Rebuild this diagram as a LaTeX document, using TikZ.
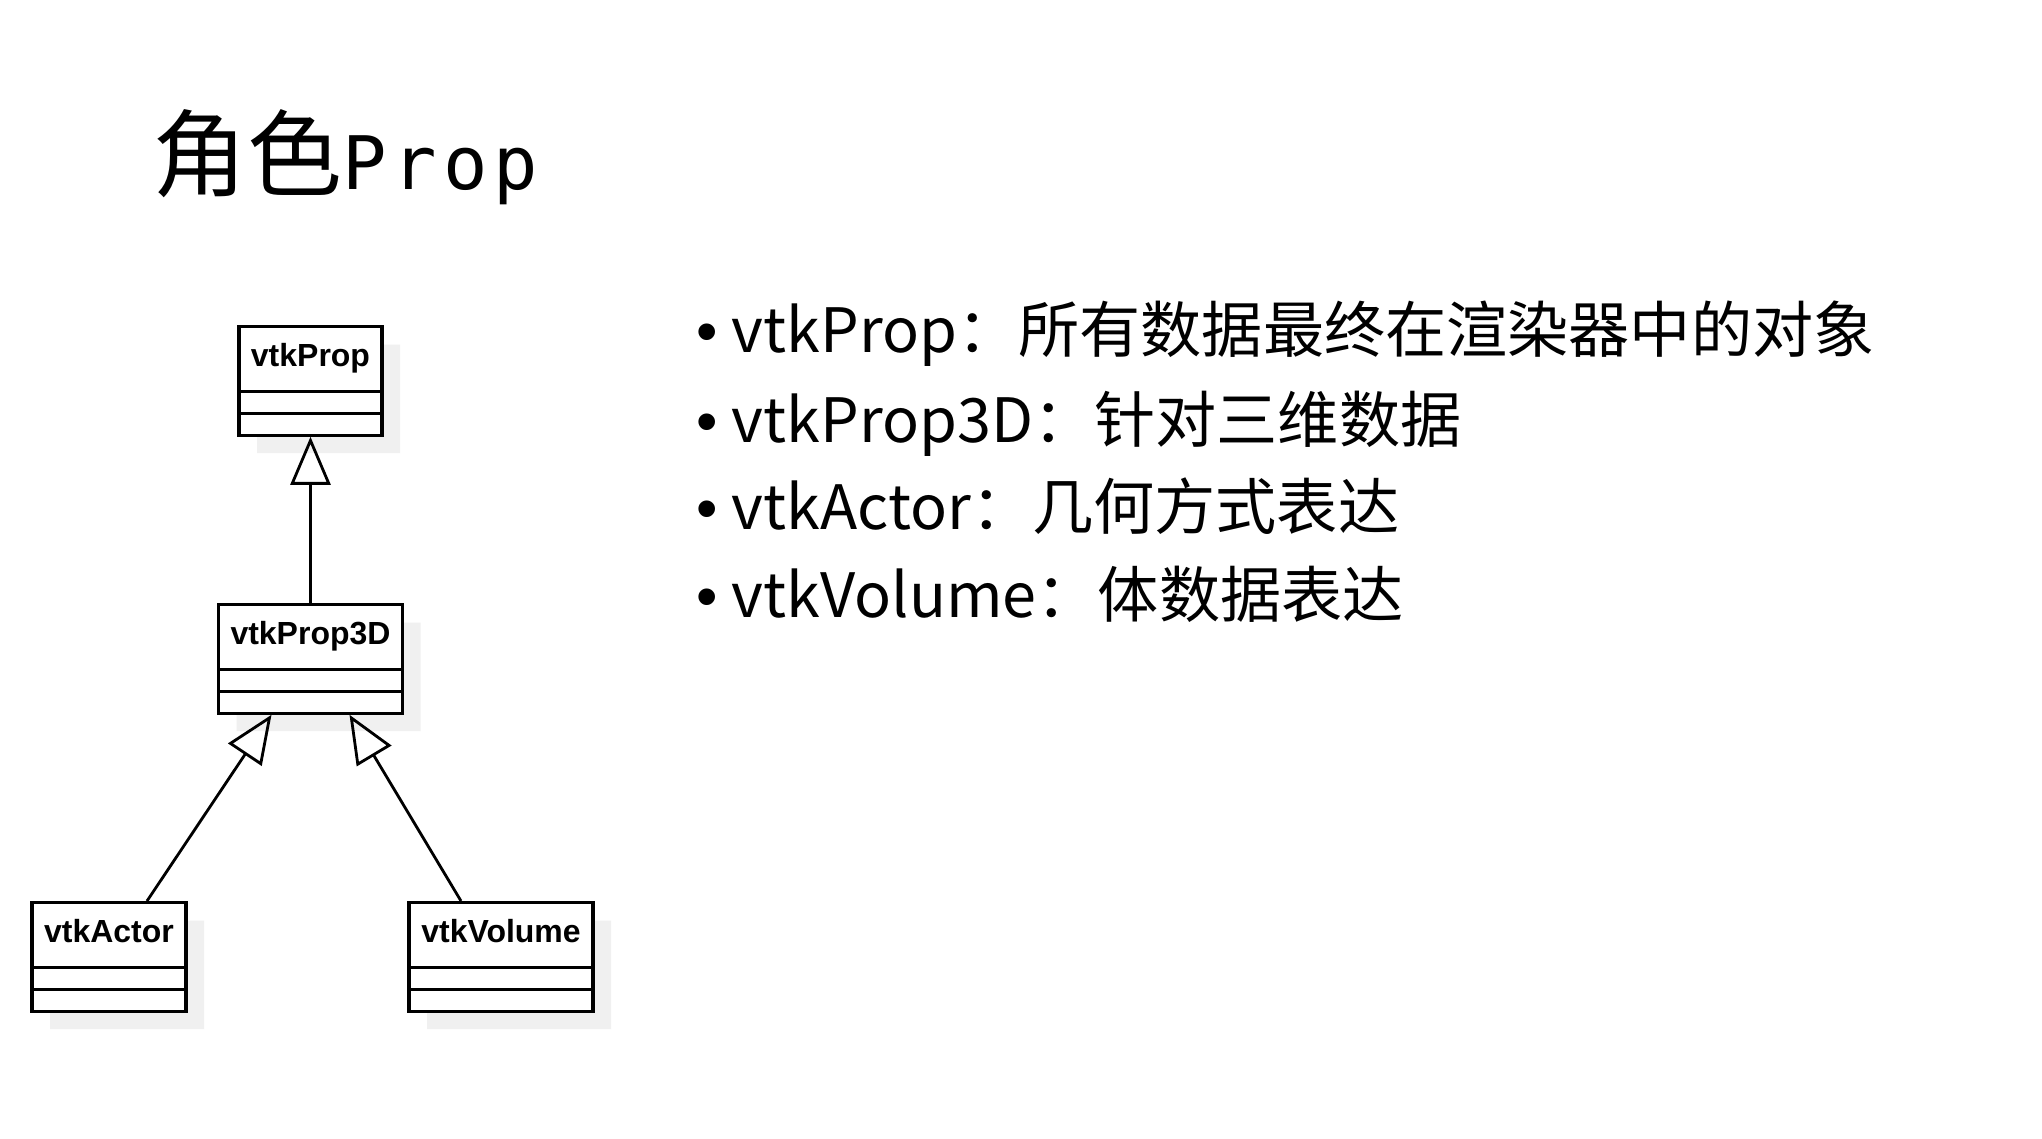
\documentclass[tikz,border=0pt]{standalone}
\usepackage{fontspec}
\setmainfont{Liberation Sans}
\newfontfamily\cjk{Noto Sans CJK SC}
\newfontfamily\titlemono[LetterSpace=8]{DejaVu Sans Mono}
\usetikzlibrary{arrows.meta,shapes.multipart,shadows,positioning}

\tikzset{
    umlclass/.style={rectangle split, rectangle split parts=3, draw, line width=0.9pt,
        fill=white, inner xsep=0pt, inner ysep=0pt, anchor=north,
        rectangle split empty part height=0.18cm,
        font=\fontsize{9.1}{11}\selectfont\bfseries,
        drop shadow={shadow xshift=0.18cm, shadow yshift=-0.18cm, fill=black!6, opacity=1}},
    extends/.style={line width=0.8pt, -{Triangle[open, length=0.48cm, width=0.4cm]}},
    item/.style={anchor=base west, inner sep=0pt, font=\cjk\fontsize{17.4}{21}\selectfont}
}
% name compartment of a class box
\newcommand{\classname}[1]{\rule[-0.24cm]{0pt}{0.62cm}#1}

\begin{document}
\begin{tikzpicture}[x=0.1mm, y=-0.1mm]
                % Page
                \fill[white] (0,0) rectangle (2042,1138);
                \useasboundingbox (0,0) rectangle (2042,1138);

                % Title
                \node[anchor=base west, inner sep=0pt, font=\cjk\fontsize{27}{32}\selectfont] (title) at (152,189)
                    {角色{\titlemono\fontsize{21}{24}\selectfont Prop}};

                % Classes
                \node[umlclass, minimum width=1.43cm] (prop) at (310.5,325) {\classname{vtkProp}};
                \node[umlclass, minimum width=1.84cm] (p3d) at (310.5,603) {\classname{vtkProp3D}};
                \node[umlclass, minimum width=1.54cm] (actor) at (109,901) {\classname{vtkActor}};
                \node[umlclass, minimum width=1.84cm] (volume) at (501,901) {\classname{vtkVolume}};

                % Generalization
                \draw[extends] (p3d.north) -- (prop.south);
                \draw[extends] ([xshift=0.38cm]actor.north) -- ([xshift=-0.39cm]p3d.south);
                \draw[extends] ([xshift=-0.40cm]volume.north) -- ([xshift=0.39cm]p3d.south);

                % Bullets
                \node[item] (l1) at (696,352) {{\rmfamily •} vtkProp：所有数据最终在渲染器中的对象};
                \node[item] (l2) at (696,442) {{\rmfamily •} vtkProp3D：针对三维数据};
                \node[item] (l3) at (696,529) {{\rmfamily •} vtkActor：几何方式表达};
                \node[item] (l4) at (696,617) {{\rmfamily •} vtkVolume：体数据表达};
            \end{tikzpicture}
\end{document}
